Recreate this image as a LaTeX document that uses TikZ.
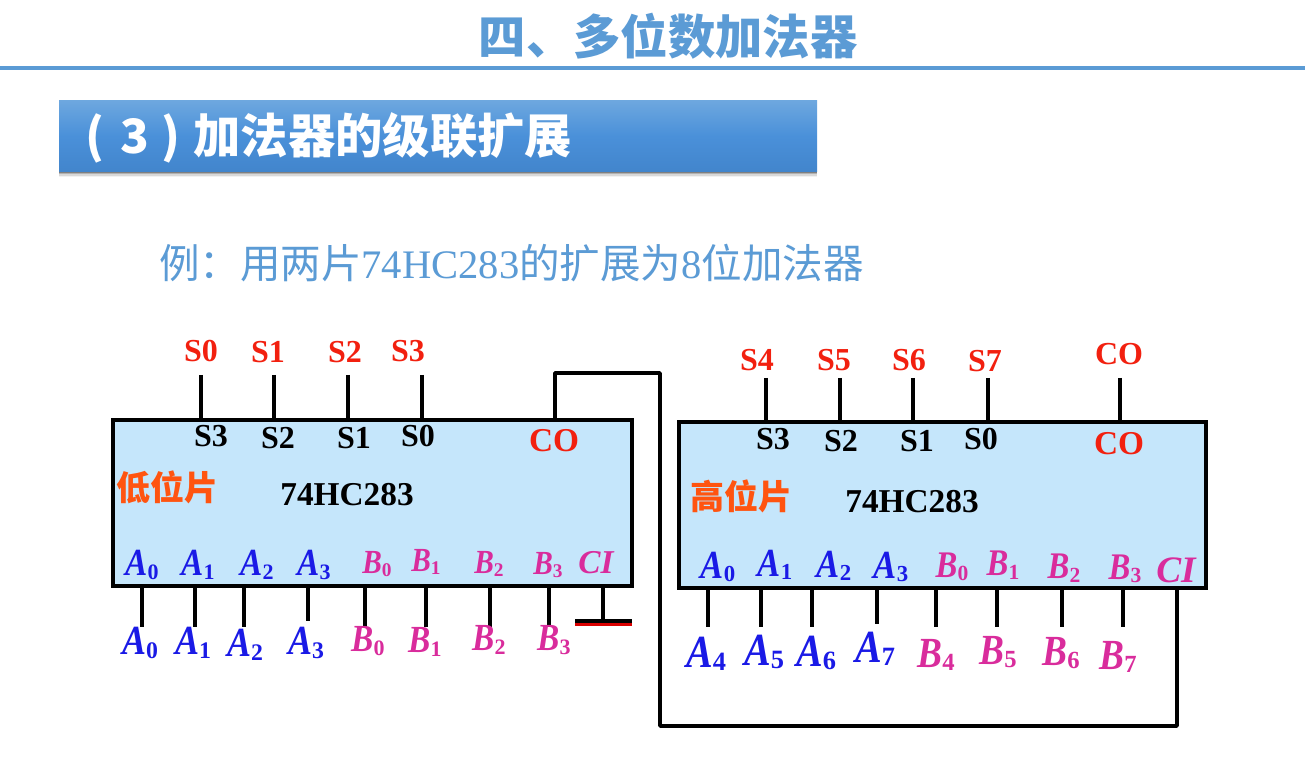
\documentclass[tikz,border=0pt]{standalone}
\usepackage{fontspec}
\usepackage{graphicx}
\setmainfont{Liberation Serif}
\newfontfamily\cjkf{Noto Sans CJK SC}
\usetikzlibrary{calc}
\definecolor{hblue}{HTML}{5B9BD5}
\definecolor{bantop}{HTML}{6DA7DF}
\definecolor{banmid}{HTML}{4A90D9}
\definecolor{banbot}{HTML}{4285CC}
\definecolor{chipfill}{HTML}{C5E6FB}
\definecolor{sred}{HTML}{F2200F}
\definecolor{pinblue}{HTML}{1A1AE6}
\definecolor{pinpink}{HTML}{D92C9C}
\definecolor{corange}{HTML}{FF5410}
\newcommand\pinlab[3]{\scalebox{1}[1.15]{\fontsize{#3pt}{#3pt}\selectfont\bfseries\itshape #1}\raisebox{-.26em}{\fontsize{#3pt}{#3pt}\selectfont\fontsize{\fpeval{0.66*#3}pt}{#3pt}\selectfont\bfseries #2}}
\tikzset{
  chip/.style={draw=black,line width=3pt,fill=chipfill,minimum width=0,inner sep=0},
  wire/.style={draw=black,line width=2.8pt,line join=miter},
  txt/.style={inner sep=0,outer sep=0,anchor=center},
  sout/.style={txt,text=sred,font=\fontsize{24pt}{24pt}\selectfont\bfseries},
  sin/.style={txt,text=black,font=\fontsize{24pt}{24pt}\selectfont\bfseries},
  apin/.style={txt,text=pinblue},
  bpin/.style={txt,text=pinpink},
  cnlab/.style={txt,text=corange,font=\cjkf\fontsize{25.5pt}{25.5pt}\selectfont\bfseries},
}
\begin{document}
\begin{tikzpicture}[x=0.75pt,y=-0.75pt]
\useasboundingbox (0,0) rectangle (1305,762);
\fill[white] (0,0) rectangle (1305,762);
% heading
\node[txt,text=hblue,font=\cjkf\fontsize{35.5pt}{35.5pt}\selectfont\bfseries] (title) at (668,36) {四、多位数加法器};
\coordinate (ruleL) at (0,68);
\coordinate (ruleR) at (1305,68);
\draw[hblue,line width=3pt] (ruleL) -- (ruleR);
% banner
\foreach \o/\a in {1/.28,2.5/.18,4/.1,5.5/.05}
  \fill[black,opacity=\a] (59,101+\o) rectangle (817,172+\o);
\shade[top color=bantop,bottom color=banbot,middle color=banmid] (59,101) rectangle (817,172);
\node[txt,anchor=west,text=white,font=\cjkf\fontsize{35.5pt}{35.5pt}\selectfont\bfseries] (bantext) at (85,138) {(\hspace{.36em}3\hspace{.25em})\hspace{0.27em}加法器的级联扩展};
% example
\node[txt,anchor=west,text=hblue,font=\fontsize{30.4pt}{30.4pt}\selectfont] (example) at (159,263) {{\cjkf 例：用两片}74HC283{\cjkf 的扩展为}8{\cjkf 位加法器}};
% chips
\path[chip] (113,420) rectangle (632,586);
\path[chip] (679,422) rectangle (1206,588);
% top pins
\foreach \x in {201,274,348,422}{
  \draw[wire] (\x,375) -- (\x,419);
}
\foreach \x in {766,840,913,988,1120}{
  \draw[wire] (\x,378) -- (\x,421);
}
% bottom pins
\foreach \x/\e in {142/627,195/627,244/627,308/621,365/627,426/627,490/627,549/627,603/620}{
  \draw[wire] (\x,587) -- (\x,\e);
}
\foreach \x/\e in {708/627,761/627,812/627,877/624,936/627,997/627,1062/627,1123/627}{
  \draw[wire] (\x,589) -- (\x,\e);
}
% ground
\coordinate (gndL) at (575,622);
\coordinate (gndR) at (632,622);
\draw[line width=3pt,red!85!black] ($(gndL)+(0,2)$) -- ($(gndR)+(0,2)$);
\draw[line width=2.8pt,black] ($(gndL)+(0,-1)$) -- ($(gndR)+(0,-1)$);
% cascade wire
\coordinate (coOut) at (555,419);
\coordinate (ciIn) at (1177,588);
\draw[wire,line join=round] (coOut) -- (555,373) -- (660,373) -- (660,726) -- (1177,726) -- (ciIn);
% outputs chip 1
\foreach \n/\x/\y/\t in {a/201/351/S0,b/268/352/S1,c/345/352/S2,d/408/351/S3}
  \node[sout] (o\n) at (\x,\y) {\t};
\foreach \n/\x/\y/\t in {a/211/436/S3,b/278/438/S2,c/354/438/S1,d/418/436/S0}
  \node[sin] (i\n) at (\x,\y) {\t};
\node[sout,font=\fontsize{25pt}{25pt}\selectfont\bfseries] (coa) at (554,441) {CO};
\node[cnlab] (low) at (167,487) {低位片};
\node[sin,font=\fontsize{25pt}{25pt}\selectfont\bfseries] (cha) at (347,495) {74HC283};
% outputs chip 2
\foreach \n/\x/\y/\t in {a/757/360/S4,b/834/360/S5,c/909/360/S6,d/985/361/S7,e/1119/354/CO}
  \node[sout] (p\n) at (\x,\y) {\t};
\foreach \n/\x/\y/\t in {a/773/439/S3,b/841/441/S2,c/917/441/S1,d/981/439/S0}
  \node[sin] (j\n) at (\x,\y) {\t};
\node[sout,font=\fontsize{25pt}{25pt}\selectfont\bfseries] (cob) at (1119,444) {CO};
\node[cnlab] (high) at (741,496) {高位片};
\node[sin,font=\fontsize{25pt}{25pt}\selectfont\bfseries] (chb) at (912,502) {74HC283};
% inner labels chip 1
\foreach \n/\x/\d in {a/142/0,b/198/1,c/257/2,d/314/3}
  \node[apin] (ia\n) at (\x,565) {\pinlab{A}{\d}{25}};
\foreach \n/\x/\y/\d in {a/377/564/0,b/426/562/1,c/489/564/2,d/548/565/3}
  \node[bpin] (ib\n) at (\x,\y) {\pinlab{B}{\d}{22}};
\node[bpin,font=\fontsize{25pt}{25pt}\selectfont\bfseries\itshape] (cia) at (596,563) {CI};
% outer labels chip 1
\foreach \n/\x/\y/\d in {a/140/643/0,b/193/643/1,c/245/645/2,d/306/643/3}
  \node[apin] (oa\n) at (\x,\y) {\pinlab{A}{\d}{27}};
\foreach \n/\x/\y/\d in {a/368/641/0,b/425/642/1,c/489/640/2,d/554/640/3}
  \node[bpin] (ob\n) at (\x,\y) {\pinlab{B}{\d}{25}};
% inner labels chip 2
\foreach \n/\x/\y/\d in {a/718/567/0,b/775/565/1,c/834/566/2,d/891/567/3}
  \node[apin] (ja\n) at (\x,\y) {\pinlab{A}{\d}{26}};
\foreach \n/\x/\y/\d in {a/952/567/0,b/1003/565/1,c/1064/568/2,d/1125/569/3}
  \node[bpin] (jb\n) at (\x,\y) {\pinlab{B}{\d}{24.5}};
\node[bpin,font=\fontsize{28pt}{28pt}\selectfont\bfseries\itshape] (cib) at (1176,570) {CI};
% outer labels chip 2
\foreach \n/\x/\y/\d in {a/706/654/4,b/764/652/5,c/816/653/6,d/875/649/7}
  \node[apin] (pa\n) at (\x,\y) {\pinlab{A}{\d}{30}};
\foreach \n/\x/\y/\d in {a/936/655/4,b/998/652/5,c/1061/653/6,d/1118/657/7}
  \node[bpin] (pb\n) at (\x,\y) {\pinlab{B}{\d}{28}};
\end{tikzpicture}
\end{document}
